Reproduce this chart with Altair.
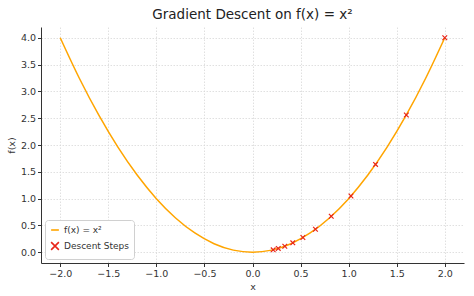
import altair as alt
import pandas as pd

# Parabola samples (x, f(x))
curve_x = [-2.0, -1.8, -1.6, -1.4, -1.2, -1.0, -0.8, -0.6, -0.4, -0.2, 0.0,
           0.2, 0.4, 0.6, 0.8, 1.0, 1.2, 1.4, 1.6, 1.8, 2.0]
curve_y = [4.0, 3.24, 2.56, 1.96, 1.44, 1.0, 0.64, 0.36, 0.16, 0.04, 0.0,
           0.04, 0.16, 0.36, 0.64, 1.0, 1.44, 1.96, 2.56, 3.24, 4.0]

# Descent steps
step_x = [2.0, 1.6, 1.28, 1.024, 0.819, 0.655, 0.524, 0.419, 0.336, 0.268, 0.215]
step_y = [4.0, 2.56, 1.638, 1.049, 0.671, 0.429, 0.275, 0.176, 0.113, 0.072, 0.046]

x_ticks = [-2.0, -1.5, -1.0, -0.5, 0.0, 0.5, 1.0, 1.5, 2.0]
y_ticks = [0.0, 0.5, 1.0, 1.5, 2.0, 2.5, 3.0, 3.5, 4.0]

LINE = "f(x) = x²"
STEP = "Descent Steps"
curve = pd.DataFrame({"x": curve_x, "y": curve_y, "series": LINE})
steps = pd.DataFrame({"x": step_x, "y": step_y, "series": STEP})

XPATH = "M-1,-1L1,1M1,-1L-1,1"

xscale = alt.Scale(domain=[-2.2, 2.2], nice=False, zero=False)
yscale = alt.Scale(domain=[-0.2, 4.2], nice=False, zero=False)

leg = alt.Legend(title=None, orient="bottom-left", offset=4,
                 strokeColor="#d0d0d0", cornerRadius=3, fillColor="white",
                 padding=5, labelFontSize=9, labelColor="#333",
                 symbolStrokeWidth=1.6, symbolSize=60, rowPadding=3,
                 labelFont="DejaVu Sans")
color = alt.Color("series:N", scale=alt.Scale(domain=[LINE, STEP], range=["#FFA500", "#E8251A"]), legend=leg)
shape = alt.Shape("series:N", scale=alt.Scale(domain=[LINE, STEP], range=["stroke", XPATH]), legend=leg)

xenc = alt.X("x:Q", scale=xscale, title="x",
             axis=alt.Axis(values=x_ticks, format=".1f"))
yenc = alt.Y("y:Q", scale=yscale, title="f(x)",
             axis=alt.Axis(values=y_ticks, format=".1f"))

line = alt.Chart(curve).mark_line(strokeWidth=1.5, interpolate="monotone").encode(
    x=xenc, y=yenc, color=color)

pts = alt.Chart(steps).mark_point(filled=False, strokeWidth=1.2, size=22, opacity=1).encode(
    x=xenc, y=yenc, color=color, shape=shape)

chart = (line + pts).properties(
    width=423, height=236,
    autosize=alt.AutoSizeParams(type="none"),
    padding={"left": 41, "top": 27, "right": 10, "bottom": 33},
    title=alt.TitleParams("Gradient Descent on f(x) = x²", fontSize=13.5,
                          font="DejaVu Sans", fontWeight="normal", color="#222",
                          anchor="middle", offset=6),
).configure_view(stroke=None).configure_axis(
    labelFont="DejaVu Sans", labelFontSize=9.5, labelColor="#333",
    titleFont="DejaVu Sans", titleFontSize=9.5, titleFontWeight="normal", titleColor="#333",
    domainColor="#333", domainWidth=1, tickColor="#333", tickSize=3.5,
    gridColor="#d8d8d8", gridDash=[1.5, 1.5], gridWidth=0.8,
).configure_axisX(titlePadding=3).configure_axisY(titlePadding=4)

chart.save("out.html", embed_options={"renderer": "svg", "actions": False})
